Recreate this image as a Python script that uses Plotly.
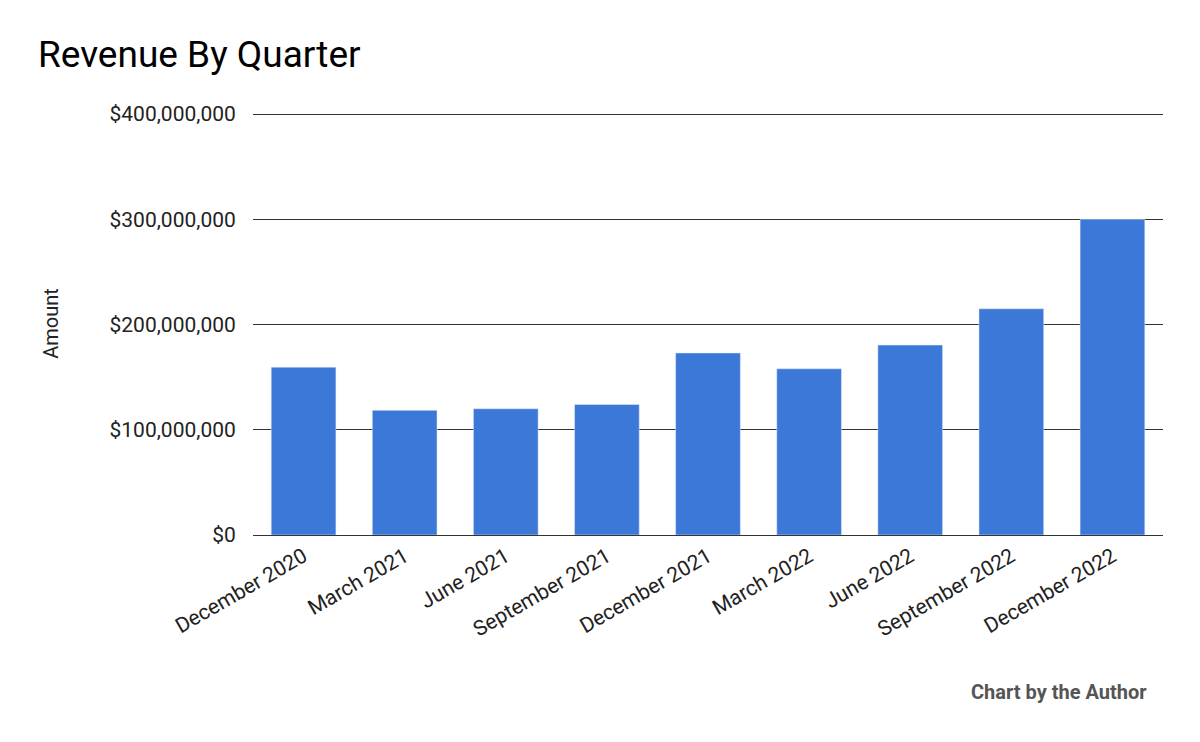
import plotly.graph_objects as go

quarters = ["December 2020", "March 2021", "June 2021", "September 2021", "December 2021",
            "March 2022", "June 2022", "September 2022", "December 2022"]
revenue = [159_500_000, 118_500_000, 120_000_000, 124_000_000, 173_000_000,
           158_000_000, 180_500_000, 215_000_000, 300_000_000]
y_ticks = [0, 100_000_000, 200_000_000, 300_000_000, 400_000_000]
y_labels = ["$0", "$100,000,000", "$200,000,000", "$300,000,000", "$400,000,000"]

fig = go.Figure(go.Bar(x=quarters, y=revenue, marker_color="#3c78d8"))

fig.update_layout(
    width=1200, height=742,
    title=dict(text="Revenue By Quarter", x=0.025, y=0.955, xanchor="left",
               font=dict(size=37, color="#000000", family="Roboto")),
    font=dict(family="Roboto", size=20, color="#222222"),
    plot_bgcolor="white", paper_bgcolor="white",
    bargap=0.36,
    margin=dict(l=245, r=45, t=104, b=215),
    showlegend=False,
)
fig.add_annotation(text="<b>Chart by the Author</b>", xref="paper", yref="paper",
                   x=1.0 - 0.015, y=-0.37, xanchor="right", yanchor="middle",
                   showarrow=False, font=dict(size=20, color="#555555"))
fig.update_xaxes(tickangle=-30, showgrid=False, showline=True, linecolor="#333333",
                 tickfont=dict(size=21, color="#222222"))
fig.update_yaxes(range=[0, 402_000_000], tickvals=y_ticks, ticktext=y_labels,
                 showgrid=True, gridcolor="#333333", gridwidth=1.3, zeroline=False,
                 ticks="outside", ticklen=12, tickcolor="white",
                 title=dict(text="Amount", font=dict(size=20, color="#222222"), standoff=45),
                 tickfont=dict(size=21, color="#222222"))

fig.write_html("out.html")
